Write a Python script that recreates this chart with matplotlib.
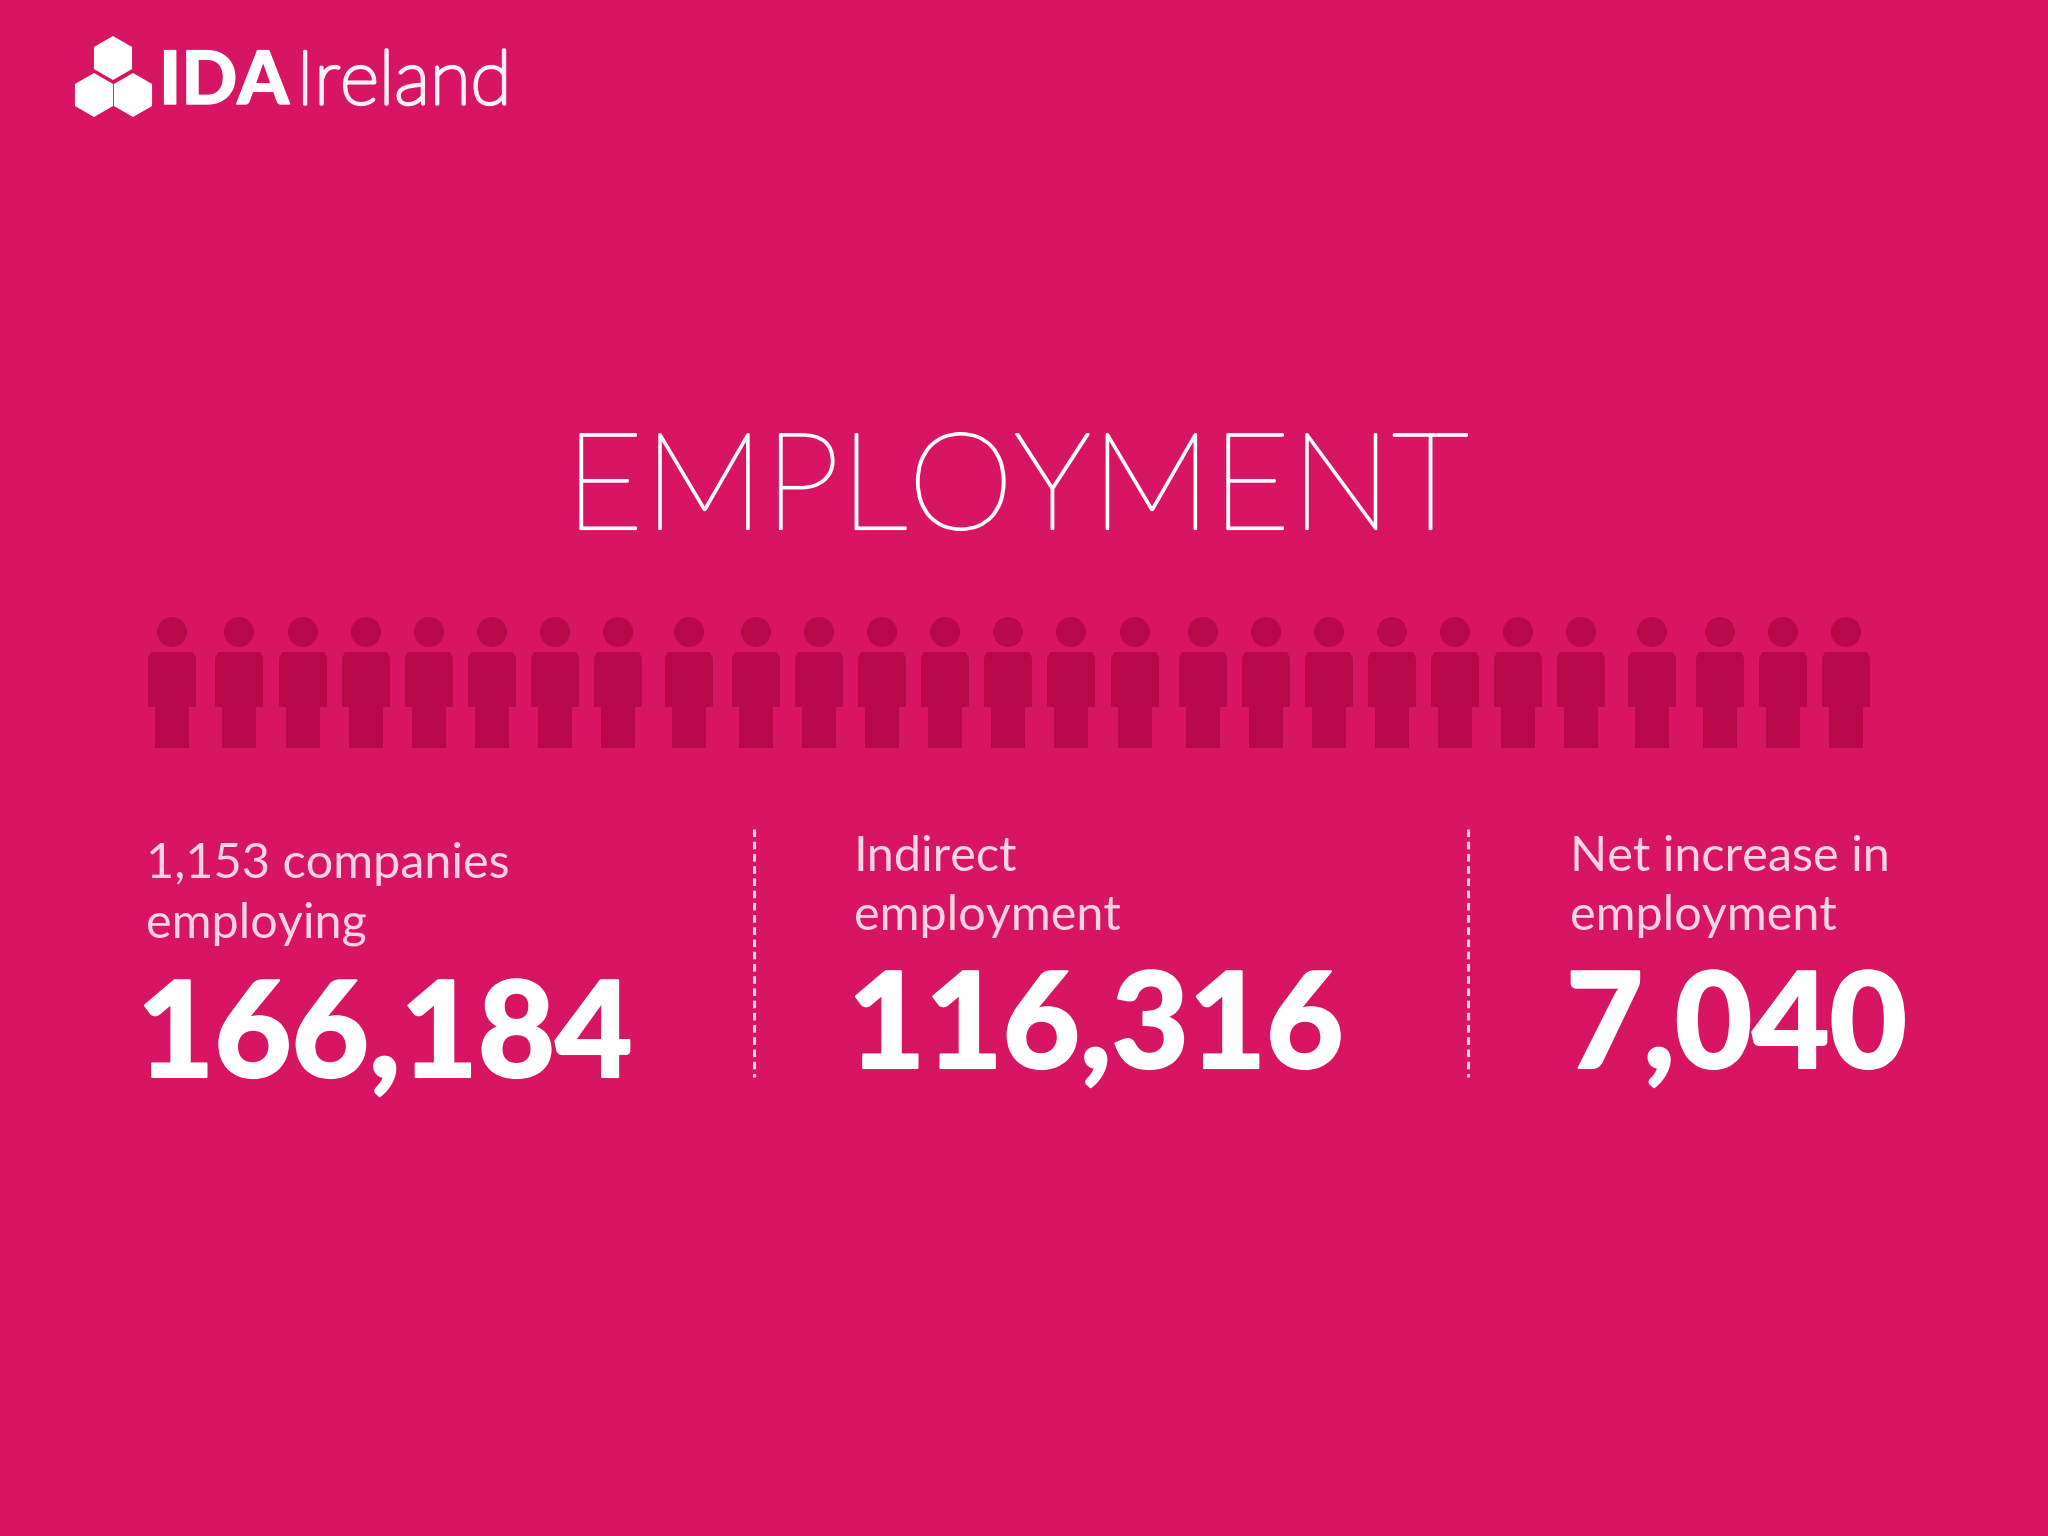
import matplotlib.pyplot as plt
import matplotlib.patheffects as pe
from matplotlib.patches import Circle, Polygon, RegularPolygon

bg = '#d81562'
dark = '#b9074c'
pale = '#fbd3e3'

title = 'EMPLOYMENT'
person_x = [172, 239, 303, 366, 429, 492, 555, 618, 689, 756, 819, 882, 945,
            1008, 1071, 1135, 1203, 1266, 1329, 1392, 1455, 1518, 1581, 1652,
            1720, 1783, 1846]
labels = [['1,153 companies', 'employing'], ['Indirect', 'employment'],
          ['Net increase in', 'employment']]
label_x = [146, 854, 1570]
label_y = [[878, 938], [871, 930], [871, 930]]
numbers = ['166,184', '116,316', '7,040']
number_x = [137, 848, 1566]
number_y = [1077, 1068, 1068]
divider_x = [754, 1468]

fig = plt.figure(figsize=(20.48, 15.36), dpi=100, facecolor=bg)
ax = fig.add_axes([0, 0, 1, 1])
ax.set_xlim(0, 2048)
ax.set_ylim(1536, 0)
ax.axis('off')

# logo
for cx, cy in [(113, 58), (94, 95), (133, 95)]:
    ax.add_patch(RegularPolygon((cx, cy), 6, radius=22, color='white', lw=0))
ax.text(159, 104, 'IDA', family='Lato', weight='black', fontsize=53, color='white',
        path_effects=[pe.withStroke(linewidth=1, foreground='white')])
ax.text(296, 104, 'Ireland', family='Lato', weight='light', fontsize=54, color='#fff0f5',
        path_effects=[pe.withStroke(linewidth=2.5, foreground='#fff0f5')])

# the light Lato comes out as a hairline, so thicken it with a stroke
ax.text(1017, 529, title, family='Lato', weight='light', fontsize=97.5, color='white',
        ha='center', path_effects=[pe.withStroke(linewidth=1.6, foreground='white')])

# row of people
for x in person_x:
    ax.add_patch(Circle((x, 632), 15, color=dark, lw=0))
    ax.add_patch(Polygon([(x - 21, 652), (x + 21, 652), (x + 24, 658), (x + 24, 707),
                          (x + 17, 707), (x + 17, 748), (x - 17, 748), (x - 17, 707),
                          (x - 24, 707), (x - 24, 658)], color=dark, lw=0))

for x, lines, ys in zip(label_x, labels, label_y):
    for line, y in zip(lines, ys):
        ax.text(x, y, line, family='Lato', fontsize=35, color=pale)

for x, y, num in zip(number_x, number_y, numbers):
    ax.text(x, y, num, family='Lato', weight='black', fontsize=96, color='white',
            path_effects=[pe.withStroke(linewidth=1.5, foreground='white')])

for x in divider_x:
    ax.plot([x, x], [829, 1077], color=pale, lw=2.2, ls=(0, (2.5, 1.5)))

fig.savefig('out.png', dpi=100, facecolor=bg)
